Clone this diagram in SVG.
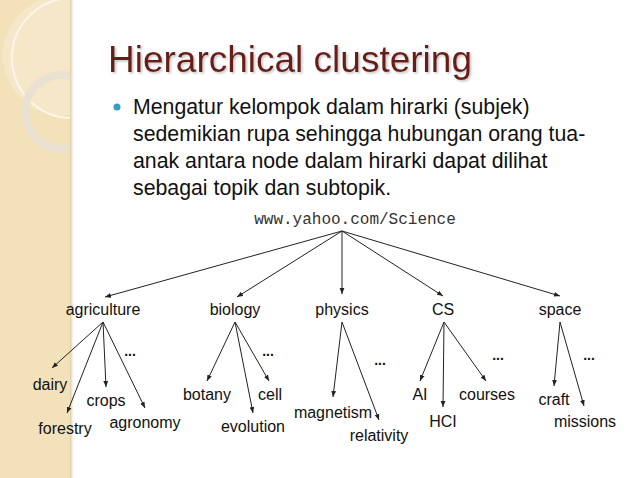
<svg xmlns="http://www.w3.org/2000/svg" width="638" height="478" viewBox="0 0 638 478">
<defs>
<style>
.t{font-family:"Liberation Sans",Arial,sans-serif;font-size:16px;fill:#111;text-anchor:middle}
.d{font-weight:bold;font-size:14px}
.b{font-family:"Liberation Sans",Arial,sans-serif;font-size:21.3px;fill:#111}
#edges line{stroke:#222;stroke-width:1;marker-end:url(#a)}
</style>
<marker id="a" viewBox="0 0 10 10" refX="10" refY="5" markerWidth="6" markerHeight="6" orient="auto"><path d="M0,1L10,5L0,9z" fill="#222"/></marker>
<linearGradient id="sh" x1="0" x2="1"><stop offset="0" stop-color="#d8c69c"/><stop offset="1" stop-color="#fff" stop-opacity="0"/></linearGradient>
<filter id="ts" x="-5%" y="-20%" width="110%" height="140%"><feDropShadow dx="1.5" dy="1.5" stdDeviation="1" flood-color="#999" flood-opacity="0.6"/></filter>
</defs>
<rect width="638" height="478" fill="#fff"/>
<rect width="70" height="478" fill="#f3e2b9"/>
<path d="M40,0 A60,60 0 0 0 70,115 V0Z" fill="#f7ead0" opacity="0.7"/>
<circle cx="72" cy="58" r="60" fill="none" stroke="#fbf6ea" stroke-width="2"/>
<circle cx="62" cy="112" r="37" fill="none" stroke="#e9e2d3" stroke-width="8"/>
<rect x="70" width="568" height="478" fill="#fff"/>
<rect x="70" y="0" width="5" height="478" fill="url(#sh)"/>
<text x="108" y="72" font-family="'Liberation Sans',Arial,sans-serif" font-size="37" fill="#6a1f12" filter="url(#ts)">Hierarchical clustering</text>
<circle cx="117" cy="107" r="3.5" fill="#3a9dbf"/>
<text class="b" x="133" y="114">Mengatur kelompok dalam hirarki (subjek)</text>
<text class="b" x="133" y="141">sedemikian rupa sehingga hubungan orang tua-</text>
<text class="b" x="133" y="168">anak antara node dalam hirarki dapat dilihat</text>
<text class="b" x="133" y="195">sebagai topik dan subtopik.</text>
<text x="355" y="224" font-family="'Liberation Mono',monospace" font-size="16" fill="#333" text-anchor="middle">www.yahoo.com/Science</text>
<g id="edges">
<line x1="342" y1="231" x2="105" y2="297"/><line x1="342" y1="231" x2="237" y2="297"/><line x1="342" y1="231" x2="342" y2="294"/><line x1="342" y1="231" x2="443" y2="296"/><line x1="342" y1="231" x2="560" y2="296"/>
<line x1="103" y1="322" x2="52" y2="368"/><line x1="103" y1="322" x2="67" y2="413"/><line x1="103" y1="322" x2="106" y2="387"/><line x1="103" y1="322" x2="145" y2="408"/>
<line x1="235" y1="322" x2="207" y2="381"/><line x1="235" y1="322" x2="253" y2="413"/><line x1="235" y1="322" x2="269" y2="381"/>
<line x1="342" y1="322" x2="333" y2="397"/><line x1="342" y1="322" x2="379" y2="420"/>
<line x1="444" y1="322" x2="420" y2="381"/><line x1="444" y1="322" x2="443" y2="407"/><line x1="444" y1="322" x2="486" y2="381"/>
<line x1="560" y1="322" x2="554" y2="386"/><line x1="560" y1="322" x2="584" y2="406"/>
</g>
<g id="agriculture"><text class="t" x="103" y="315">agriculture</text></g>
<g id="biology"><text class="t" x="235" y="315">biology</text></g>
<g id="physics"><text class="t" x="342" y="315">physics</text></g>
<g id="cs"><text class="t" x="443" y="315">CS</text></g>
<g id="space"><text class="t" x="560" y="315">space</text></g>
<g id="dots">
<text class="t d" x="130" y="356">...</text><text class="t d" x="268" y="356">...</text><text class="t d" x="380" y="365">...</text><text class="t d" x="498" y="360">...</text><text class="t d" x="589" y="360">...</text>
</g>
<g id="dairy"><text class="t" x="50" y="390">dairy</text></g>
<g id="crops"><text class="t" x="106" y="406">crops</text></g>
<g id="forestry"><text class="t" x="65" y="434">forestry</text></g>
<g id="agronomy"><text class="t" x="145" y="428">agronomy</text></g>
<g id="botany"><text class="t" x="207" y="400">botany</text></g>
<g id="cell"><text class="t" x="270" y="400">cell</text></g>
<g id="evolution"><text class="t" x="253" y="432">evolution</text></g>
<g id="magnetism"><text class="t" x="333" y="418">magnetism</text></g>
<g id="relativity"><text class="t" x="379" y="441">relativity</text></g>
<g id="ai"><text class="t" x="420" y="400">AI</text></g>
<g id="hci"><text class="t" x="443" y="427">HCI</text></g>
<g id="courses"><text class="t" x="487" y="400">courses</text></g>
<g id="craft"><text class="t" x="554" y="405">craft</text></g>
<g id="missions"><text class="t" x="585" y="427">missions</text></g>
</svg>
